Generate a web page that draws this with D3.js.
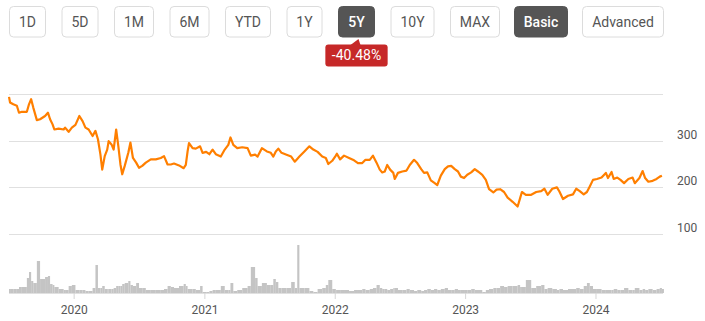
<!DOCTYPE html>
<html>
<head>
<meta charset="utf-8">
<script src="https://cdn.jsdelivr.net/npm/d3@7"></script>
<style>
  body { margin: 0; background: #fff; font-family: Roboto, "Noto Sans", sans-serif; }
</style>
</head>
<body>
<div id="chart"></div>
<script>
// range / mode buttons
const ranges = ["1D", "5D", "1M", "6M", "YTD", "1Y", "5Y", "10Y", "MAX"];
const modes = ["Basic", "Advanced"];
const activeRange = "5Y";
const activeMode = "Basic";
const changeLabel = "-40.48%";

// price series (close, approx)
const dates = [
  "2019-07-04","2019-07-07","2019-07-16","2019-07-26","2019-08-01","2019-08-09","2019-08-23","2019-08-29","2019-09-04","2019-09-10",
  "2019-09-20","2019-09-29","2019-10-13","2019-10-21","2019-10-27","2019-11-03","2019-11-08","2019-11-20","2019-12-04","2019-12-08",
  "2019-12-18","2019-12-27","2020-01-06","2020-01-17","2020-01-26","2020-02-03","2020-02-12","2020-02-23","2020-03-02","2020-03-09",
  "2020-03-16","2020-03-21","2020-03-28","2020-04-04","2020-04-08","2020-04-16","2020-04-22","2020-04-29","2020-05-05","2020-05-11",
  "2020-05-16","2020-05-23","2020-06-02","2020-06-08","2020-06-15","2020-06-24","2020-07-02","2020-07-11","2020-07-21","2020-08-04",
  "2020-08-18","2020-09-01","2020-09-10","2020-09-20","2020-09-29","2020-10-08","2020-10-22","2020-11-04","2020-11-10","2020-11-15",
  "2020-11-19","2020-11-29","2020-12-08","2020-12-20","2020-12-27","2021-01-06","2021-01-15","2021-01-24","2021-02-02","2021-02-16",
  "2021-02-27","2021-03-09","2021-03-15","2021-03-23","2021-04-03","2021-04-17","2021-05-02","2021-05-11","2021-05-23","2021-05-30",
  "2021-06-11","2021-06-25","2021-07-06","2021-07-13","2021-07-20","2021-07-27","2021-08-05","2021-08-19","2021-09-01","2021-09-11",
  "2021-09-18","2021-09-24","2021-10-08","2021-10-22","2021-11-02","2021-11-14","2021-11-27","2021-12-07","2021-12-14","2021-12-25",
  "2022-01-04","2022-01-07","2022-01-16","2022-01-27","2022-02-10","2022-02-24","2022-03-07","2022-03-19","2022-03-28","2022-04-09",
  "2022-04-18","2022-04-28","2022-05-07","2022-05-14","2022-05-21","2022-05-28","2022-06-05","2022-06-14","2022-06-18","2022-06-27",
  "2022-07-09","2022-07-21","2022-07-30","2022-08-11","2022-08-20","2022-08-31","2022-09-08","2022-09-17","2022-09-27","2022-10-06",
  "2022-10-15","2022-10-25","2022-11-05","2022-11-14","2022-11-23","2022-12-03","2022-12-12","2022-12-20","2022-12-29","2023-01-07",
  "2023-01-18","2023-01-28","2023-02-06","2023-02-18","2023-02-28","2023-03-09","2023-03-21","2023-03-30","2023-04-09","2023-04-20",
  "2023-04-30","2023-05-14","2023-05-28","2023-06-04","2023-06-09","2023-06-20","2023-07-05","2023-07-19","2023-08-02","2023-08-11",
  "2023-08-20","2023-09-02","2023-09-15","2023-09-22","2023-10-02","2023-10-16","2023-10-30","2023-11-08","2023-11-18","2023-11-29",
  "2023-12-08","2023-12-16","2023-12-25","2024-01-05","2024-01-18","2024-01-30","2024-02-05","2024-02-15","2024-02-21","2024-03-02",
  "2024-03-11","2024-03-21","2024-04-02","2024-04-14","2024-04-20","2024-05-03","2024-05-12","2024-05-19","2024-05-28","2024-06-09",
  "2024-06-20","2024-06-29","2024-07-05"
];
const closes = [
  394,382,378,375,360,362,362,378,389,371,
  344,346,353,360,346,335,324,326,324,328,
  319,328,334,353,342,328,324,310,321,303,
  270,238,267,281,299,292,281,324,289,249,
  228,246,274,296,263,253,242,246,253,260,
  260,263,267,249,249,251,247,241,248,277,
  295,284,283,288,274,276,271,281,271,266,
  281,291,307,291,284,286,284,268,270,266,
  284,277,274,266,277,283,274,270,266,255,
  261,266,277,288,281,276,266,263,250,257,
  268,272,260,268,263,258,252,252,259,259,
  268,253,238,232,234,248,238,231,218,231,
  234,236,248,259,252,239,231,232,215,210,
  205,225,239,245,246,239,234,223,220,227,
  232,239,234,227,216,196,189,195,196,190,
  178,169,159,177,190,184,184,190,192,197,
  184,197,200,191,175,182,185,197,192,185,
  190,202,216,218,221,231,220,233,218,221,
  216,209,218,221,209,220,235,220,212,214,
  218,223,225
];
// volume, millions (approx)
const volumes = [
  4,4,4,4,6,6,15,21,12,10,
  32,14,16,17,9,8,6,4,3,3,
  7,8,3,3,3,2,2,5,28,5,
  5,7,4,4,4,4,5,7,7,7,
  9,10,12,8,7,10,5,5,3,3,
  3,3,4,7,6,5,7,9,7,4,
  4,4,3,7,1,1,2,3,3,7,
  3,3,10,2,3,5,7,26,15,7,
  10,8,8,14,11,5,5,5,11,5,
  48,5,5,2,1,4,5,8,13,4,
  3,3,3,3,2,3,3,4,3,4,
  5,8,5,4,4,3,4,5,5,3,
  3,4,3,2,3,2,3,4,3,4,
  3,4,5,3,3,4,3,3,3,3,
  4,3,3,1,3,4,5,5,7,6,
  7,7,8,6,6,13,5,7,8,4,
  5,4,3,4,3,4,4,5,4,7,
  10,7,4,4,3,3,3,3,4,3,
  3,5,3,3,5,3,4,3,4,3,
  4,5,4
];
const gridValues = [100, 200, 300, 400];
const labelValues = [100, 200, 300];
const domainStart = "2019-07-04";
const domainEnd = "2024-07-08";

const width = 705, height = 321;
const parse = d3.timeParse("%Y-%m-%d");
const data = dates.map((d, i) => ({ date: parse(d), close: closes[i], vol: volumes[i] }));

const svg = d3.select("#chart").append("svg")
  .attr("width", width)
  .attr("height", height)
  .style("font-family", "Roboto, sans-serif");

/* ---- buttons ---- */
var bx = 9.5;
function addButton(label, active, gap) {
  var g = svg.append("g");
  var rect = g.append("rect");
  var txt = g.append("text")
    .attr("y", 26.5)
    .style("font-size", "14px")
    .style("font-weight", active ? 500 : 400)
    .attr("fill", active ? "#fff" : "#555")
    .attr("text-anchor", "middle")
    .text(label);
  var w = Math.round(txt.node().getComputedTextLength() + 19);
  rect.attr("x", bx).attr("y", 6.5).attr("width", w).attr("height", 30.5)
    .attr("rx", 4)
    .attr("fill", active ? "#555" : "#fff")
    .attr("stroke", active ? "#555" : "#dcdcdc");
  txt.attr("x", bx + w / 2);
  var cx = bx + w / 2;
  bx += w + gap;
  return cx;
}
var badgeX = 0;
ranges.forEach(function (r, i) {
  var cx = addButton(r, r === activeRange, i === ranges.length - 1 ? 15 : 16.5);
  if (r === activeRange) badgeX = cx;
});
modes.forEach(function (m) { addButton(m, m === activeMode, 15); });

// change badge under the active range
var badge = svg.append("g");
var bt = badge.append("text")
  .attr("x", badgeX)
  .attr("y", 60)
  .attr("text-anchor", "middle")
  .attr("fill", "#fff")
  .style("font-size", "14px")
  .text(changeLabel);
var bw = bt.node().getComputedTextLength() + 13;
badge.insert("rect", "text")
  .attr("x", badgeX - bw / 2).attr("y", 44.5)
  .attr("width", bw).attr("height", 22)
  .attr("rx", 3)
  .attr("fill", "#c62828");
badge.insert("path", "text")
  .attr("d", "M" + (badgeX - 6) + ",45L" + (badgeX + 2) + ",39L" + (badgeX + 4) + ",45Z")
  .attr("fill", "#c62828");

/* ---- scales ---- */
const x = d3.scaleTime()
  .domain([parse(domainStart), parse(domainEnd)])
  .range([9, 663]);
const y = d3.scaleLinear().domain([100, 300]).range([234, 140.7]);
const yVol = d3.scaleLinear().domain([0, 50]).range([293, 243]);

// gridlines
svg.append("g")
  .selectAll("line")
  .data(gridValues)
  .enter()
  .append("line")
  .attr("x1", 9).attr("x2", 663)
  .attr("y1", d => Math.round(y(d)) + 0.5)
  .attr("y2", d => Math.round(y(d)) + 0.5)
  .attr("stroke", "#e0e0e0");

// y labels on right
var yaxis = d3.axisRight(y).tickValues(labelValues).tickSize(0).tickPadding(0);
svg.append("g")
  .attr("transform", "translate(677,0)")
  .call(yaxis)
  .call(g => g.select(".domain").remove())
  .selectAll("text")
  .attr("dy", "-0.2em")
  .attr("fill", "#555")
  .style("font-size", "12px")
  .style("font-family", "Roboto, sans-serif");

/* ---- volume bars ---- */
svg.append("g")
  .selectAll("rect")
  .data(data)
  .enter()
  .append("rect")
  .attr("x", (d, i) => x(d.date))
  .attr("width", (d, i) => i < data.length - 1 ? Math.max(1, x(data[i + 1].date) - x(d.date)) : 2)
  .attr("y", d => yVol(d.vol))
  .attr("height", d => yVol(0) - yVol(d.vol))
  .attr("fill", "#c4c4c4");

// volume baseline
svg.append("line")
  .attr("x1", 9).attr("x2", 663)
  .attr("y1", 293.5).attr("y2", 293.5)
  .attr("stroke", "#e0e0e0");

/* ---- x axis ---- */
var xaxis = d3.axisBottom(x)
  .ticks(d3.timeYear.every(1))
  .tickFormat(d3.timeFormat("%Y"))
  .tickSize(6)
  .tickPadding(6);
svg.append("g")
  .attr("transform", "translate(0,293)")
  .call(xaxis)
  .call(g => g.select(".domain").remove())
  .call(g => g.selectAll(".tick line").attr("stroke", "#d6d6d6"))
  .selectAll("text")
  .attr("fill", "#555")
  .style("font-size", "12px")
  .style("font-family", "Roboto, sans-serif");

/* ---- price line ---- */
var line = d3.line()
  .x(d => x(d.date))
  .y(d => y(d.close));
svg.append("path")
  .datum(data)
  .attr("d", line)
  .attr("fill", "none")
  .attr("stroke", "#ff7f00")
  .attr("stroke-width", 2.2)
  .attr("stroke-linejoin", "round");
</script>
</body>
</html>
